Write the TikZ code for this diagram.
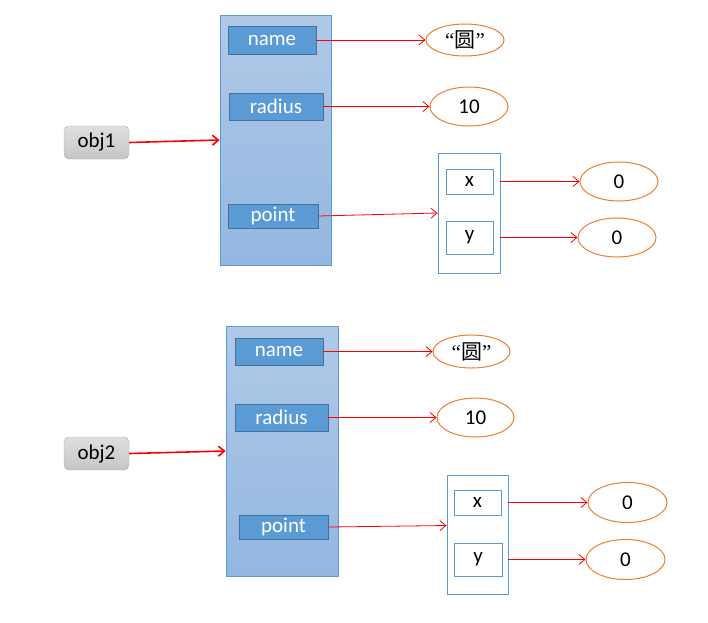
\documentclass[tikz,border=0pt]{standalone}
\usepackage{fontspec}
\setmainfont{Carlito}
\newfontfamily\cjk{Noto Sans CJK SC}
\newfontfamily\quotefont{Liberation Serif}
\usepackage{tikz}
\usetikzlibrary{shapes.geometric,arrows.meta,positioning,calc}

\definecolor{fieldblue}{HTML}{5B9BD5}
\definecolor{fielddark}{HTML}{41719C}
\definecolor{boxtop}{HTML}{B0C9E7}
\definecolor{boxbot}{HTML}{93B7E1}
\definecolor{valorange}{HTML}{ED7D31}

\tikzset{
  objbox/.style={draw=fieldblue, line width=0.8pt, top color=boxtop, bottom color=boxbot, inner sep=0pt},
  field/.style={draw=fielddark, line width=0.8pt, fill=fieldblue, text=white, inner sep=0pt},
  refbox/.style={draw=gray!65, rounded corners=5pt, top color=gray!25, bottom color=gray!45, inner sep=0pt, minimum width=65, minimum height=33},
  valnode/.style={draw=valorange, line width=1pt, ellipse, inner sep=0pt},
  xybox/.style={draw=fieldblue, line width=0.9pt, inner sep=0pt},
  link/.style={red, line width=0.8pt, -{Straight Barb[length=6pt,width=10pt]}},
  reflink/.style={red, line width=1.6pt, -{Straight Barb[length=6pt,width=10pt]}}
}

\begin{document}
\begin{tikzpicture}[x=1pt, y=-1pt, font=\fontsize{21}{24}\selectfont]
  \useasboundingbox (0,0) rectangle (708,622);

  % first object
  \node[objbox, minimum width=111, minimum height=250] (bodya) at (275.5,140) {};
  \node[field, minimum width=88, minimum height=28] (namea) at (272,40) {name};
  \node[field, minimum width=94, minimum height=27] (radiusa) at (276,106.5) {radius};
  \node[field, minimum width=90, minimum height=24] (pointa) at (273,216) {point};
  \node[refbox] (obja) at (96.5,142.5) {obj1};
  \node[valnode, minimum width=78, minimum height=32] (namevala) at (465,40) {{\quotefont“}{\cjk 圆}{\quotefont”}};
  \node[valnode, minimum width=78, minimum height=39] (radiusvala) at (469,106.5) {10};
  \node[xybox, minimum width=62, minimum height=120] (xya) at (469,213) {};
  \node[xybox, minimum width=47, minimum height=25] (xa) at (469.5,181.5) {x};
  \node[xybox, minimum width=47, minimum height=33] (ya) at (469.5,237.5) {y};
  \node[valnode, minimum width=78, minimum height=39] (xvala) at (619,181.5) {0};
  \node[valnode, minimum width=78, minimum height=39] (yvala) at (617,237.5) {0};

  \draw[reflink] (obja.east) -- (bodya.west);
  \draw[link] (namea.east) -- (namevala.west);
  \draw[link] (radiusa.east) -- (radiusvala.west);
  \draw[link] (pointa.east) -- (xya.west);
  \draw[link] (xa.east -| xya.east) -- (xvala.west);
  \draw[link] (ya.east -| xya.east) -- (yvala.west);

  % second object
  \node[objbox, minimum width=112, minimum height=250] (bodyb) at (282,451) {};
  \node[field, minimum width=88, minimum height=27] (nameb) at (279,351.5) {name};
  \node[field, minimum width=93, minimum height=27] (radiusb) at (281.5,417.5) {radius};
  \node[field, minimum width=89, minimum height=24] (pointb) at (283.5,527) {point};
  \node[refbox] (objb) at (96.5,453.5) {obj2};
  \node[valnode, minimum width=77, minimum height=33] (namevalb) at (471.5,351.5) {{\quotefont“}{\cjk 圆}{\quotefont”}};
  \node[valnode, minimum width=77, minimum height=39] (radiusvalb) at (475.5,417.5) {10};
  \node[xybox, minimum width=61, minimum height=119] (xyb) at (477.5,534.5) {};
  \node[xybox, minimum width=47, minimum height=25] (xb) at (477.5,502.5) {x};
  \node[xybox, minimum width=48, minimum height=33] (yb) at (478,559.5) {y};
  \node[valnode, minimum width=79, minimum height=40] (xvalb) at (627.5,502.5) {0};
  \node[valnode, minimum width=79, minimum height=40] (yvalb) at (625.5,559.5) {0};

  \draw[reflink] (objb.east) -- (bodyb.west);
  \draw[link] (nameb.east) -- (namevalb.west);
  \draw[link] (radiusb.east) -- (radiusvalb.west);
  \draw[link] (pointb.east) -- ([yshift=9pt]xyb.west);
  \draw[link] (xb.east -| xyb.east) -- (xvalb.west);
  \draw[link] (yb.east -| xyb.east) -- (yvalb.west);
\end{tikzpicture}
\end{document}
